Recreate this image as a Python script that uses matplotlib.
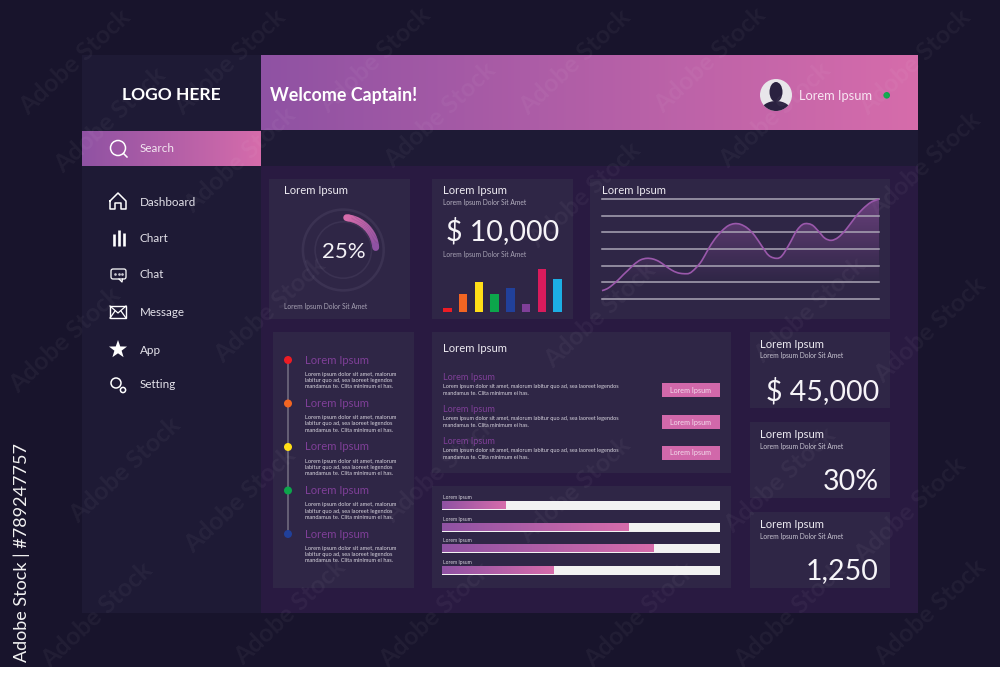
import numpy as np
import matplotlib
matplotlib.use("Agg")
import matplotlib.pyplot as plt
from matplotlib.patches import Rectangle, Circle, Wedge, Polygon, FancyBboxPatch, Ellipse, PathPatch
from matplotlib.path import Path
from matplotlib.colors import LinearSegmentedColormap

plt.rcParams['font.family'] = ['Lato', 'Open Sans', 'DejaVu Sans']

# ---------- data ----------
nav_labels = ["Dashboard", "Chart", "Chat", "Message", "App", "Setting"]
donut_percent = 25
bar_values = [4, 18, 30, 18, 24, 8, 43, 33]
bar_colors = ["#ed1c24", "#f26522", "#ffde17", "#0ca64b", "#21409a", "#7f3f98", "#d91b5c", "#1caee4"]
line_x = [0, 1.3, 2.6, 4, 5.2, 6.5, 8, 9.5, 11, 12.5, 14, 15.5, 17, 18.5, 20,
          21.5, 23, 24.5, 26, 27.7, 29.5, 31, 32.5, 34, 35.7, 37.5, 39.3, 41, 42.9, 44.2,
          46, 47.8, 49.5, 51.5, 53.2, 54.7, 56.3, 58, 60, 62, 64, 66, 68]
line_values = [0.50, 0.62, 0.85, 1.15, 1.45, 1.75, 2.10, 2.35, 2.44, 2.40, 2.25, 2.00, 1.75, 1.58, 1.52,
               1.55, 1.85, 2.30, 2.95, 3.60, 4.10, 4.40, 4.52, 4.48, 4.25, 3.80, 3.15, 2.60, 2.44, 2.60,
               3.30, 4.10, 4.50, 4.45, 4.05, 3.65, 3.52, 3.70, 4.20, 4.85, 5.40, 5.80, 6.00]
grid_levels = [0, 1, 2, 3, 4, 5, 6]
timeline_colors = ["#ed1c24", "#f26522", "#ffde17", "#0ca64b", "#21409a"]
progress_values = [23, 67, 76, 40]
button_label = "Lorem Ipsum"
stat_values = ["$ 45,000", "30%", "1,250"]
body3 = "Lorem ipsum dolor sit amet, malorum\nlabitur quo ad, sea laoreet legendos\nmandamus te. Clita minimum ei has."
body2 = "Lorem ipsum dolor sit amet, malorum labitur quo ad, sea laoreet legendos\nmandamus te. Clita minimum ei has."

W, H = 1000, 679
PURPLE, PINK = "#8f52a3", "#d66cab"
grad = LinearSegmentedColormap.from_list("g", [PURPLE, PINK])
OUTER, SIDE, CONTENT, CARD = "#18142c", "#1e1a35", "#291a41", "#2f2646"
TXT = "#ece9f0"

fig = plt.figure(figsize=(W / 100, H / 100), dpi=100, facecolor=OUTER)
ax = fig.add_axes([0, 0, 1, 1])
ax.set_xlim(0, W); ax.set_ylim(H, 0); ax.axis("off")


def rect(x0, y0, x1, y1, c, z=1, **k):
    r = Rectangle((x0, y0), x1 - x0, y1 - y0, fc=c, ec="none", zorder=z, **k)
    ax.add_patch(r)
    return r


def hgrad(a, x0, y0, x1, y1, z=2, cmap=grad):
    a.imshow(np.linspace(0, 1, 256)[None, :], extent=(x0, x1, y1, y0), cmap=cmap,
             aspect="auto", zorder=z, interpolation="bilinear")


def t(x, y, s, size, c=TXT, ha="left", va="center", z=6, **k):
    ax.text(x, y, s, fontsize=size, color=c, ha=ha, va=va, zorder=z, **k)


def smooth_path(xs, ys):
    """Bezier path running through the read points (Catmull-Rom tangents)."""
    p = np.column_stack([xs, ys])
    verts, codes = [p[0]], [Path.MOVETO]
    for i in range(len(p) - 1):
        m0 = (p[i + 1] - p[i - 1]) / 6 if i > 0 else (p[i + 1] - p[i]) / 3
        m1 = (p[i + 2] - p[i]) / 6 if i < len(p) - 2 else (p[i + 1] - p[i]) / 3
        verts += [p[i] + m0, p[i + 1] - m1, p[i + 1]]
        codes += [Path.CURVE4] * 3
    return verts, codes


# panels
rect(0, 667, W, H, "#ffffff", 0.5)
rect(82, 55, 918, 613, SIDE)
rect(261, 166, 918, 613, CONTENT, 1.2)
for c in [(269, 179, 410, 319), (432, 179, 573, 319), (590, 179, 890, 319), (273, 332, 414, 588),
          (432, 332, 731, 473), (432, 486, 731, 588), (750, 332, 890, 408), (750, 422, 890, 498),
          (750, 512, 890, 588)]:
    rect(*c, CARD, 1.5)

# header
hgrad(ax, 261, 55, 918, 130)
hgrad(ax, 82, 131, 261, 166)
t(171, 95.5, "LOGO HERE", 12.6, "#ffffff", ha="center", fontweight="bold")
t(270, 95.5, "Welcome Captain!", 12.9, "#ffffff", fontweight="bold")
t(799, 96, "Lorem Ipsum", 9.3, "#f8e6f2")
ax.add_patch(Circle((776, 95), 16, fc="#e8e6ea", ec="none", zorder=5))
ax.add_patch(Ellipse((776, 92), 13, 20, fc="#2a2140", ec="none", zorder=6))
sh = Ellipse((776, 111), 30, 20, fc="#2a2140", ec="none", zorder=6)
ax.add_patch(sh)
sh.set_clip_path(Circle((776, 95), 16, transform=ax.transData))
ax.add_patch(Circle((886.7, 95.3), 3.3, fc="#0ca64b", ec="none", zorder=6))

# sidebar
LW = 1.1
ax.add_patch(Circle((118, 148), 7.5, fc="none", ec="#fff", lw=LW, zorder=6))
ax.plot([123.5, 127], [153.5, 157], color="#fff", lw=LW, zorder=6)
t(140, 149, "Search", 8.4, "#f3e6f1")
nav_y = [202, 239, 275, 313, 350, 385]
for lab, y in zip(nav_labels, nav_y):
    t(140, y, lab, 8.4, "#e4e2ea")
ax.plot([110, 118, 126, 126, 121, 121, 115, 115, 110, 110], [201, 193, 201, 209, 209, 203, 203, 209, 209, 201],
        color="#fff", lw=LW, zorder=6)
for x, top in zip((113.5, 118.5, 123.5), (234, 230, 233)):
    ax.plot([x, x], [top, 246], color="#fff", lw=1.9, zorder=6, solid_capstyle="butt")
ax.add_patch(FancyBboxPatch((111, 269), 15, 10, boxstyle="round,pad=0,rounding_size=2", fc="none", ec="#fff", lw=0.9, zorder=6))
ax.plot([119, 122, 122.5], [279, 282, 279], color="#fff", lw=0.9, zorder=6)
ax.plot([115, 118.5, 122], [274, 274, 274], ls="none", marker="o", ms=0.9, color="#c8c6d0", zorder=6)
ax.add_patch(Rectangle((110, 306), 16, 12, fc="none", ec="#fff", lw=1.0, zorder=6))
ax.plot([110, 118, 126], [306, 313, 306], color="#fff", lw=0.9, zorder=6)
ax.plot([110, 115], [318, 311], color="#fff", lw=0.9, zorder=6)
ax.plot([126, 121], [318, 311], color="#fff", lw=0.9, zorder=6)
star = [(118 + r * np.sin(a), 349.5 - r * np.cos(a)) for a, r in
        zip(np.arange(10) * np.pi / 5, [9.5, 3.8] * 5)]
ax.add_patch(Polygon(star, fc="#fff", ec="none", zorder=6))
ax.add_patch(Circle((116, 383), 5, fc="none", ec="#fff", lw=1.1, zorder=6))
ax.add_patch(Circle((123, 390), 2.6, fc="none", ec="#fff", lw=1.1, zorder=6))

# donut card
t(284, 191, "Lorem Ipsum", 8.1)
t(284, 307, "Lorem Ipsum Dolor Sit Amet", 4.8, "#a8a3b5")
t(343.5, 252, f"{donut_percent}%", 16, "#f4f2f6", ha="center")
cx, cy = 343.3, 250
ax.add_patch(Wedge((cx, cy), 41.7, 0, 360, width=2.6, fc="#3b3252", ec="none", zorder=3))
ax.add_patch(Wedge((cx, cy), 29, 0, 360, width=1.6, fc="#3b3252", ec="none", zorder=3))
sweep = np.deg2rad(donut_percent / 100 * 316)
th = np.linspace(np.deg2rad(6), np.deg2rad(6) + sweep, 40)
R = 32.5
for i in range(len(th) - 1):
    frac = i / (len(th) - 2)
    a0, a1 = th[i], th[i + 1] + .01
    ax.plot([cx + R * np.sin(a0), cx + R * np.sin(a1)], [cy - R * np.cos(a0), cy - R * np.cos(a1)],
            color=grad(1 - frac), lw=5, solid_capstyle="round" if i in (0, len(th) - 2) else "butt", zorder=4)

# money card
t(443, 191, "Lorem Ipsum", 8.1)
t(443, 202, "Lorem Ipsum Dolor Sit Amet", 4.8, "#b5b0c0")
t(502.5, 231, "$ 10,000", 20.5, "#f6f4f8", ha="center")
t(443, 254, "Lorem Ipsum Dolor Sit Amet", 4.8, "#a8a3b5")
bx = fig.add_axes([443 / W, 1 - 312 / H, (562 - 443) / W, 50 / H])
bx.bar(range(len(bar_values)), bar_values, width=0.55, color=bar_colors)
bx.set_xlim(-0.28, 7.28); bx.set_ylim(0, 50); bx.axis("off")

# line chart
t(602, 191, "Lorem Ipsum", 8.1)
lx = fig.add_axes([602 / W, 1 - 304 / H, 277 / W, 105 / H])
lx.axis("off"); lx.patch.set_alpha(0)
lcmap = LinearSegmentedColormap.from_list("f", [(0.56, 0.32, 0.62, 0.0), (0.56, 0.32, 0.62, 0.62)])
im = lx.imshow(np.linspace(1, 0, 256)[:, None], extent=(0, 68, 1, 6), cmap=lcmap, aspect="auto",
               zorder=1, vmin=0, vmax=1)
verts, codes = smooth_path(line_x, line_values)
fill_path = Path(verts + [(line_x[-1], 1), (line_x[0], 1), verts[0]],
                 codes + [Path.LINETO, Path.LINETO, Path.CLOSEPOLY])
im.set_clip_path(fill_path, transform=lx.transData)
for g in grid_levels:
    lx.plot([0, 68], [g, g], color="#aaa5b5", lw=1.1, zorder=2, clip_on=False)
lx.add_patch(PathPatch(Path(verts, codes), fc="none", ec="#9a58ab", lw=1.2, zorder=3, clip_on=False))
lx.set_xlim(0, 68); lx.set_ylim(-0.3, 6)

# timeline
ty = [360, 403.5, 447, 490.5, 534]
ax.plot([288, 288], [ty[0], ty[-1]], color="#6f6a7e", lw=1.2, zorder=3)
for y, c in zip(ty, timeline_colors):
    ax.add_patch(Circle((288, y), 4, fc=c, ec="none", zorder=4))
    t(305, y, "Lorem Ipsum", 8.1, "#7f3f98")
    t(305, y + 20.5, body3, 4.05, "#d8d5de", linespacing=1.28)

# list card
t(443, 349, "Lorem Ipsum", 8.1)
ly = [377, 409, 441]
by = [390, 422, 453]
for y, b in zip(ly, by):
    t(443, y, "Lorem Ipsum", 6.6, "#7f3f98")
    t(443, y + 13, body2, 4.0, "#d8d5de", linespacing=1.28)
    rect(662, b - 7, 720, b + 7, "#d168aa", 3)
    t(691, b, button_label, 5.2, "#f3dcec", ha="center")

# progress bars
centers = [505, 527, 548, 570]
for y, v in zip(centers, progress_values):
    t(443, y - 7.5, "Lorem Ipsum", 3.6, "#d8d5de")
    a = fig.add_axes([442 / W, 1 - (y + 4.5) / H, 278 / W, 9 / H])
    a.axis("off")
    a.barh(0.5, 100, height=1, color="#f2f2f2", zorder=1)
    a.imshow(np.linspace(0, 1, 256)[None, :], extent=(0, v, 0, 1), cmap=grad, aspect="auto", zorder=2)
    a.set_xlim(0, 100); a.set_ylim(0, 1)

# stat cards
for (top, val) in zip((344, 434.5, 524.5), stat_values):
    t(760, top, "Lorem Ipsum", 8.1)
    t(760, top + 11.5, "Lorem Ipsum Dolor Sit Amet", 4.8, "#c9c5d2")
    t(879, top + 47, val, 20.5, "#f6f4f8", ha="right")

# watermarks and stock label
marks = [(440, 115), (110, 120), (240, 160), (775, 115), (925, 165), (585, 195), (65, 340), (270, 310),
         (600, 315), (810, 310), (930, 330), (125, 470), (240, 500), (440, 470), (575, 490), (780, 480),
         (910, 510), (97, 615), (290, 612), (435, 615), (640, 615), (790, 615), (930, 612),
         (75, 62), (375, 60), (710, 60), (915, 62), (230, 62), (575, 62)]
for x, y in marks:
    ax.text(x, y, "Adobe Stock", fontsize=18, color="#ffffff", alpha=0.045, rotation=43, ha="center", va="center",
            fontweight="bold", zorder=8, rotation_mode="anchor")
ax.text(22, 553, "Adobe Stock | #789247757", fontsize=13, color="#f2f2f2", rotation=90, ha="center", va="center", zorder=9)

fig.savefig("out.png", dpi=100, facecolor=OUTER)
